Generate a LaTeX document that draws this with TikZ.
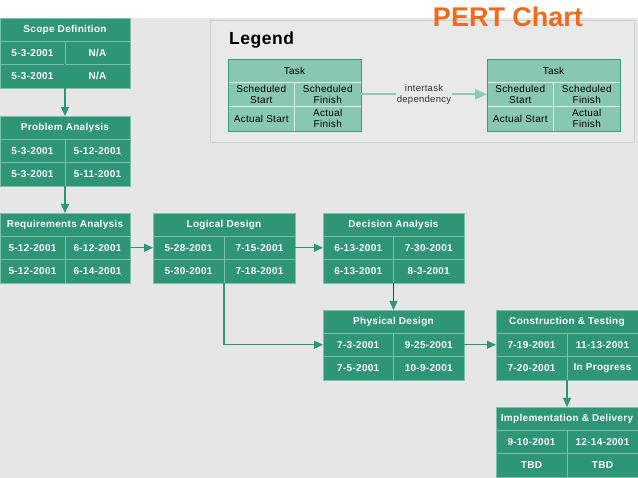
\documentclass[tikz,border=0pt]{standalone}
\usepackage{fontspec}
\setmainfont{Liberation Sans}
\newfontfamily\trackedfont[LetterSpace=3]{Liberation Sans}
\usetikzlibrary{arrows.meta,calc}
\definecolor{pgreen}{HTML}{2E9676}
\definecolor{pline}{HTML}{79C2A8}
\definecolor{lteal}{HTML}{88C7B2}
\definecolor{lborder}{HTML}{3F9A7C}
\definecolor{lline}{HTML}{D8EEE6}
\definecolor{bggray}{HTML}{E6E6E6}
\definecolor{legbg}{HTML}{E9E9E9}
\definecolor{legframe}{HTML}{C9D3CF}
\definecolor{porange}{HTML}{F26A1B}
\definecolor{darkconn}{HTML}{24435A}
\definecolor{larrow}{HTML}{8CC9B6}
\tikzset{
  phdr/.style={draw=pline, line width=0.6pt, fill=pgreen, text=white, inner sep=0pt, outer sep=0pt,
    minimum height=23pt, font=\trackedfont\fontsize{10}{11}\selectfont\bfseries},
  pcell/.style={phdr, minimum height=23.5pt},
  lhdr/.style={draw=lline, line width=0.6pt, fill=lteal, text=black, inner sep=0pt, outer sep=0pt,
    minimum height=23pt, align=center, font=\trackedfont\fontsize{10}{11}\selectfont},
  lcell/.style={lhdr, minimum height=24.5pt},
  conn/.style={draw=pgreen, line width=1.2pt, -{Triangle[length=9pt,width=8pt]}},
  connd/.style={draw=darkconn, line width=1.3pt, -{Triangle[length=9pt,width=8pt,color=pgreen]}},
  lconn/.style={draw=larrow, line width=2.2pt, -{Triangle[length=12pt,width=10pt]}},
}
\newcommand{\ptask}[9]{%
  \node[phdr, minimum width=#4, anchor=north west] (#1) at (#2,#3) {#5};
  \node[pcell, minimum width=#4/2, anchor=north west] (#1-a) at (#1.south west) {#6};
  \node[pcell, minimum width=#4/2, anchor=north east] (#1-b) at (#1.south east) {#7};
  \node[pcell, minimum width=#4/2, anchor=north west] (#1-c) at (#1-a.south west) {#8};
  \node[pcell, minimum width=#4/2, anchor=north west] (#1-d) at (#1-b.south west) {#9};
}
\newcommand{\ltask}[3]{%
  \node[lhdr, minimum width=#2, anchor=north west] (#1) at (#3) {Task};
  \node[lcell, minimum width=#2/2, anchor=north west] (#1-a) at (#1.south west) {Scheduled\\Start};
  \node[lcell, minimum width=#2/2, anchor=north east] (#1-b) at (#1.south east) {Scheduled\\Finish};
  \node[lcell, minimum width=#2/2, anchor=north west] (#1-c) at (#1-a.south west) {Actual Start};
  \node[lcell, minimum width=#2/2, anchor=north west] (#1-d) at (#1-b.south west) {Actual\\Finish};
  \draw[lborder, line width=0.8pt] (#1.north west) rectangle (#1-d.south east);
}
\begin{document}
\begin{tikzpicture}[x=1pt,y=-1pt]
\fill[bggray] (0,0) rectangle (638,478);
\fill[white] (0,0) rectangle (638,18);
\useasboundingbox (0,0) rectangle (638,478);
% legend
\draw[legframe, fill=legbg, line width=0.8pt] (210,20) rectangle (634,142);
\node[anchor=west, inner sep=0pt, font=\trackedfont\fontsize{17.5}{18}\selectfont\bfseries] (legtitle) at (229,40) {Legend};
\ltask{lgl}{133}{228,59}
\ltask{lgr}{133}{487,59}
\draw[lconn] (lgl-b.east) -- (lgr-a.west);
\node[fill=legbg, inner sep=1pt, align=center, text=black!80, font=\trackedfont\fontsize{9.5}{11}\selectfont] (dep) at ($(lgl-b.east)!0.5!(lgr-a.west)$) {intertask\\dependency};
% title
\node[text=porange, inner sep=0pt, font=\fontsize{27}{27}\selectfont\bfseries] (title) at (508,17) {PERT Chart};
% tasks
\ptask{scope}{0}{18}{130}{Scope Definition}{5-3-2001}{N/A}{5-3-2001}{N/A}
\ptask{prob}{0}{116}{130}{Problem Analysis}{5-3-2001}{5-12-2001}{5-3-2001}{5-11-2001}
\ptask{req}{0}{213}{130}{Requirements Analysis}{5-12-2001}{6-12-2001}{5-12-2001}{6-14-2001}
\ptask{log}{153}{213}{142}{Logical Design}{5-28-2001}{7-15-2001}{5-30-2001}{7-18-2001}
\ptask{dec}{323}{213}{141}{Decision Analysis}{6-13-2001}{7-30-2001}{6-13-2001}{8-3-2001}
\ptask{phys}{323}{310}{141}{Physical Design}{7-3-2001}{9-25-2001}{7-5-2001}{10-9-2001}
\ptask{cons}{496}{310}{142}{Construction \& Testing}{7-19-2001}{11-13-2001}{7-20-2001}{In Progress}
\ptask{impl}{496}{407}{142}{Implementation \& Delivery}{9-10-2001}{12-14-2001}{TBD}{TBD}
% connectors
\draw[conn] (scope-a.south east) -- (prob.north);
\draw[conn] (prob-c.south east) -- (req.north);
\draw[conn] (req-b.east) -- (log-a.west);
\draw[conn] (log-b.east) -- (dec-a.west);
\draw[conn] (log-c.south east) |- (phys-a.west);
\draw[connd] (dec-c.south east) -- (phys.north);
\draw[conn] (phys-b.east) -- (cons-a.west);
\draw[conn] (cons-c.south east) -- (impl.north);
\end{tikzpicture}
\end{document}
